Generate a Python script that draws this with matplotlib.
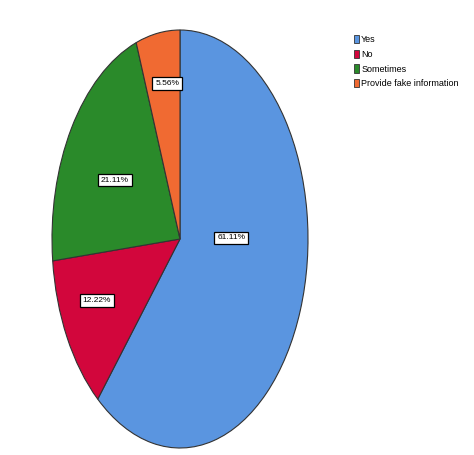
import matplotlib.pyplot as plt
import matplotlib.patches as mpatches

# data
categories = ["Yes", "No", "Sometimes", "Provide fake information"]
percentages = [61.11, 12.22, 21.11, 5.56]
colors = ["#5a95e0", "#d2063c", "#2a8a2a", "#f06a32"]

# label centres (pie data coords, radius = 1) as placed in the reference
label_xy = [(0.40, 0.005), (-0.65, -0.295), (-0.51, 0.282), (-0.10, 0.745)]

FONT = ["Liberation Sans Narrow", "Liberation Sans", "DejaVu Sans"]

fig = plt.figure(figsize=(4.74, 4.55), dpi=100)
ax = fig.add_axes([52 / 474, 7 / 455, 256 / 474, 418 / 455])

wedges, _ = ax.pie(percentages, colors=colors, startangle=90, counterclock=False,
                   radius=1.0,
                   wedgeprops=dict(edgecolor="#333333", linewidth=0.8))
ax.set_aspect("auto")
ax.set_xlim(-1.0, 1.0)
ax.set_ylim(-1.0, 1.0)

for pct, (x, y) in zip(percentages, label_xy):
    ax.text(x, y, f"{pct:.2f}%", ha="center", va="center", fontsize=6,
            family=FONT,
            bbox=dict(boxstyle="square,pad=0.35", fc="white", ec="black", lw=0.9))

handles = [mpatches.Patch(facecolor=c, edgecolor="#333333", linewidth=0.6, label=lab)
           for c, lab in zip(colors, categories)]
fig.legend(handles=handles, loc="upper left", bbox_to_anchor=(354 / 474, 1 - 35 / 455),
           frameon=False, borderaxespad=0, borderpad=0, handlelength=0.55,
           handleheight=1.0, handletextpad=0.25, labelspacing=0.62,
           prop=dict(family=FONT, size=6.5))

fig.savefig("out.png", dpi=100)
